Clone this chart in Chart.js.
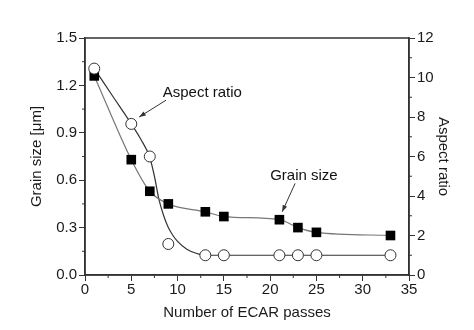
<!DOCTYPE html>
<html>
<head>
<meta charset="utf-8">
<script src="https://cdn.jsdelivr.net/npm/chart.js@4/dist/chart.umd.min.js"></script>
<style>
html,body{margin:0;padding:0;background:#fff;}
#wrap{width:474px;height:330px;}
</style>
</head>
<body>
<div id="wrap"><canvas id="c" width="474" height="330"></canvas></div>
<script>
// ECAR passes
const passes = [1, 5, 7, 9, 13, 15, 21, 23, 25, 33];
// Grain size [µm] (left axis)
const grainSize = [1.26, 0.73, 0.53, 0.45, 0.40, 0.37, 0.35, 0.30, 0.27, 0.25];
// Aspect ratio (right axis)
const aspectRatio = [10.45, 7.65, 6.0, 1.57, 1.0, 1.0, 1.0, 1.0, 1.0, 1.0];
// Fitted curve for aspect ratio
const aspectFitX = [1, 3, 5, 6, 7, 7.5, 8, 8.5, 9, 9.5, 10, 11, 12, 13, 15, 20, 33];
const aspectFitY = [10.45, 9.05, 7.65, 6.9, 5.95, 5.0, 3.8, 3.0, 2.4, 2.0, 1.7, 1.3, 1.1, 1.0, 1.0, 1.0, 1.0];
// Tick values
const xTicks = [0, 5, 10, 15, 20, 25, 30, 35];
const yLeftTicks = [0.0, 0.3, 0.6, 0.9, 1.2, 1.5];
const yRightTicks = [0, 2, 4, 6, 8, 10, 12];
// Annotations: [text, textX, textY, arrowFromX, arrowFromY, arrowToX, arrowToY, axis]
const notes = [
  ["Aspect ratio", 8.4, 9.2, 8.75, 8.85, 5.85, 8.0, "y2"],
  ["Grain size", 20.0, 0.627, 22.7, 0.58, 21.3, 0.40, "y"]
];

const FONT = "'Liberation Sans', Arial, sans-serif";
const ink = "#1a1a1a";

const frame = {
  id: 'frame',
  afterDatasetsDraw(chart) {
    const {ctx, chartArea: a, scales} = chart;
    ctx.save();
    ctx.strokeStyle = "#333";
    ctx.lineWidth = 1.5;
    ctx.strokeRect(a.left, a.top, a.right - a.left, a.bottom - a.top);
    // minor ticks
    ctx.lineWidth = 1;
    const xs = scales.x;
    for (let v = 2.5; v < 35; v += 5) {
      const px = xs.getPixelForValue(v);
      ctx.beginPath(); ctx.moveTo(px, a.bottom); ctx.lineTo(px, a.bottom + 3); ctx.stroke();
    }
    const yl = scales.y;
    for (let v = 0.15; v < 1.5; v += 0.3) {
      const py = yl.getPixelForValue(v);
      ctx.beginPath(); ctx.moveTo(a.left, py); ctx.lineTo(a.left - 3, py); ctx.stroke();
    }
    const yr = scales.y2;
    for (let v = 1; v < 12; v += 2) {
      const py = yr.getPixelForValue(v);
      ctx.beginPath(); ctx.moveTo(a.right, py); ctx.lineTo(a.right + 3, py); ctx.stroke();
    }
    // annotations
    ctx.font = "15px " + FONT;
    ctx.fillStyle = "#111";
    ctx.textBaseline = "middle";
    ctx.textAlign = "left";
    notes.forEach(n => {
      const ys = scales[n[7]];
      ctx.fillText(n[0], xs.getPixelForValue(n[1]), ys.getPixelForValue(n[2]));
      const x1 = xs.getPixelForValue(n[3]), y1 = ys.getPixelForValue(n[4]);
      const x2 = xs.getPixelForValue(n[5]), y2 = ys.getPixelForValue(n[6]);
      ctx.strokeStyle = "#333"; ctx.lineWidth = 1;
      ctx.beginPath(); ctx.moveTo(x1, y1); ctx.lineTo(x2, y2); ctx.stroke();
      const ang = Math.atan2(y2 - y1, x2 - x1);
      const L = 7, W = 0.35;
      ctx.beginPath();
      ctx.moveTo(x2, y2);
      ctx.lineTo(x2 - L * Math.cos(ang - W), y2 - L * Math.sin(ang - W));
      ctx.lineTo(x2 - L * Math.cos(ang + W), y2 - L * Math.sin(ang + W));
      ctx.closePath();
      ctx.fillStyle = "#333"; ctx.fill();
      ctx.fillStyle = "#111";
    });
    ctx.restore();
  }
};

new Chart(document.getElementById('c'), {
  type: 'scatter',
  data: {
    datasets: [
      {
        label: 'Aspect ratio fit',
        data: aspectFitX.map((x, i) => ({x, y: aspectFitY[i]})),
        yAxisID: 'y2',
        showLine: true,
        borderColor: '#333',
        borderWidth: 1.2,
        pointRadius: 0,
        cubicInterpolationMode: 'monotone',
        order: 3
      },
      {
        label: 'Grain size',
        data: passes.map((x, i) => ({x, y: grainSize[i]})),
        yAxisID: 'y',
        showLine: true,
        borderColor: '#777',
        borderWidth: 1.2,
        cubicInterpolationMode: 'monotone',
        pointStyle: 'rect',
        pointRadius: 6.8,
        pointBackgroundColor: '#000',
        pointBorderColor: '#000',
        pointBorderWidth: 0,
        order: 1
      },
      {
        label: 'Aspect ratio',
        data: passes.map((x, i) => ({x, y: aspectRatio[i]})),
        yAxisID: 'y2',
        showLine: false,
        pointStyle: 'circle',
        pointRadius: 5.5,
        pointBackgroundColor: '#fff',
        pointBorderColor: '#333',
        pointBorderWidth: 1,
        order: 0
      }
    ]
  },
  options: {
    responsive: false,
    animation: false,
    layout: {padding: {top: 38, left: 0, right: 0, bottom: 0}},
    plugins: {legend: {display: false}, tooltip: {enabled: false}},
    scales: {
      x: {
        type: 'linear', min: 0, max: 35,
        afterBuildTicks: s => { s.ticks = xTicks.map(v => ({value: v})); },
        afterFit: s => { s.height = 55; },
        grid: {drawOnChartArea: false, drawTicks: true, tickLength: 6, color: '#333'},
        border: {color: '#333', width: 1.5},
        ticks: {color: ink, font: {size: 15, family: FONT}, padding: 0, maxRotation: 0},
        title: {display: true, text: 'Number of ECAR passes', color: ink, font: {size: 15, family: FONT}, padding: {top: 0, bottom: 8}}
      },
      y: {
        type: 'linear', position: 'left', min: 0, max: 1.5,
        afterBuildTicks: s => { s.ticks = yLeftTicks.map(v => ({value: v})); },
        afterFit: s => { s.width = 85; },
        grid: {drawOnChartArea: false, drawTicks: true, tickLength: 6, color: '#333'},
        border: {color: '#333', width: 1.5},
        ticks: {color: ink, font: {size: 15, family: FONT}, padding: 2, callback: v => v.toFixed(1)},
        title: {display: true, text: 'Grain size [\u03bcm]', color: ink, font: {size: 15, family: FONT}, padding: {top: 28, bottom: 0}}
      },
      y2: {
        type: 'linear', position: 'right', min: 0, max: 12,
        afterBuildTicks: s => { s.ticks = yRightTicks.map(v => ({value: v})); },
        afterFit: s => { s.width = 65; },
        grid: {drawOnChartArea: false, drawTicks: true, tickLength: 6, color: '#333'},
        border: {color: '#333', width: 1.5},
        ticks: {color: ink, font: {size: 15, family: FONT}, padding: 2},
        title: {display: true, text: 'Aspect ratio', color: ink, font: {size: 15, family: FONT}, padding: {top: 22, bottom: 0}}
      }
    }
  },
  plugins: [frame]
});
</script>
</body>
</html>
